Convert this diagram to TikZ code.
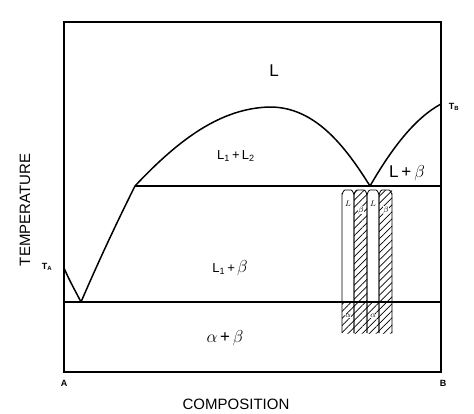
\documentclass[tikz,border=0pt]{standalone}
\usepackage{fontspec}
\setsansfont{Liberation Sans}
\usetikzlibrary{patterns.meta}

\begin{document}
\begin{tikzpicture}[x=1pt,y=-1pt,thick,
  phase label/.style={font=\sffamily\fontsize{17}{19}\selectfont},
  mid label/.style={font=\sffamily\fontsize{13}{15}\selectfont},
  small label/.style={font=\sffamily\bfseries\fontsize{9}{11}\selectfont,inner sep=0.5pt},
  axis label/.style={font=\sffamily\fontsize{15}{17}\selectfont},
  bar label/.style={font=\fontsize{8}{9}\selectfont,inner sep=0.3pt,fill=white},
  hatch/.style={pattern={Lines[angle=45,distance=5pt,line width=0.7pt]}},
  curve/.style={line width=1.5pt}]
\useasboundingbox (0,0) rectangle (474,413);

% frame
  \draw[line width=1.3pt] (64,22) rectangle (441,372);

% left liquidus down to eutectic, and up to monotectic
  \coordinate (TA) at (64,268);
  \coordinate (eut) at (81,302);
  \coordinate (mono L) at (135,186);
  \coordinate (mono R) at (370,186);
  \coordinate (TB) at (441,104);
  \draw[curve] (TA) .. controls (70,282) and (76,292) .. (eut);
  \draw[curve] (eut) .. controls (100,258) and (118,220) .. (mono L);

% miscibility dome
  \draw[curve] (mono L) .. controls (180,138) and (222,108) .. (270,107)
                        .. controls (315,107) and (345,146) .. (mono R);

% right liquidus
  \draw[curve] (mono R) .. controls (392,148) and (415,118) .. (TB);

% monotectic and eutectic lines
  \draw[line width=2pt] (mono L) -- (441,186);
  \draw[line width=1.4pt] (64,302) -- (441,302);

% bars
  \foreach \x in {354,379}
    \fill[hatch] (\x,190) rectangle ++(13,143);
  \foreach \x in {342,367}
    \fill[hatch] (\x,302) rectangle ++(12,31);
  \foreach \x/\w in {342/12,354/13,367/12,379/13}
    \draw[line width=0.8pt] (\x,333) -- (\x,194) to[out=-90,in=180] ++(3,-4)
      -- ++(\w-6,0) to[out=0,in=-90] ++(3,4) -- (\x+\w,333);
  \node[bar label] (bar1 L) at (348,204) {$L$};
  \node[bar label] (bar2 b) at (361,210) {$\beta$};
  \node[bar label] (bar3 L) at (373,204) {$L$};
  \node[bar label] (bar4 b) at (386,210) {$\beta$};
  \node[bar label] (bar1 a) at (348,316) {$\alpha$};
  \node[bar label] (bar3 a) at (373,316) {$\alpha$};

% phase labels
  \node[phase label] (liq) at (274,71) {L};
  \node[mid label] (L1L2) at (236,156) {L\textsubscript{1}\,+\,L\textsubscript{2}};
  \node[phase label] (Lbeta) at (407,173) {L\,+\,$\beta$};
  \node[mid label] (L1beta) at (230,268) {L\textsubscript{1}\,+\,{\fontsize{17}{19}\selectfont$\beta$}};
  \node[phase label] (ab) at (225,338) {$\alpha$\,+\,$\beta$};

% end points
  \node[small label] (TA label) at (47,267) {T\textsubscript{A}};
  \node[small label] (TB label) at (454,107) {T\textsubscript{B}};
  \node[small label] (A) at (64,383) {A};
  \node[small label] (B) at (443,383) {B};

% axes
  \node[axis label] (comp) at (236,404) {COMPOSITION};
  \node[axis label,rotate=90] (temp) at (25,210) {TEMPERATURE};

\end{tikzpicture}
\end{document}
